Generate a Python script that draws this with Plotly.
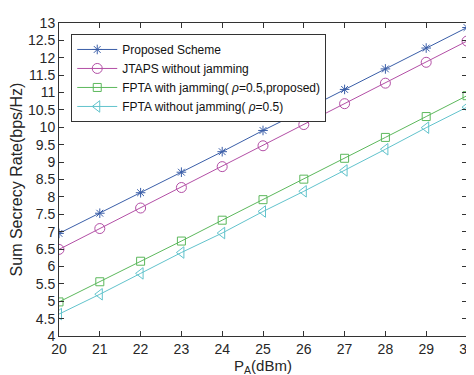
import plotly.graph_objects as go

pa = [20, 21, 22, 23, 24, 25, 26, 27, 28, 29, 30]
proposed = [6.95, 7.53, 8.12, 8.71, 9.30, 9.91, 10.49, 11.09, 11.68, 12.28, 12.87]
jtaps = [6.49, 7.09, 7.68, 8.27, 8.87, 9.47, 10.08, 10.68, 11.27, 11.87, 12.48]
fpta_jam = [4.98, 5.56, 6.15, 6.73, 7.33, 7.92, 8.51, 9.11, 9.71, 10.31, 10.91]
fpta_nojam = [4.63, 5.20, 5.80, 6.40, 6.96, 7.58, 8.16, 8.76, 9.37, 9.99, 10.58]

names = ["Proposed Scheme", "JTAPS without jamming",
         "FPTA with jamming( <i>ρ</i>=0.5,proposed)",
         "FPTA without jamming( <i>ρ</i>=0.5)"]
colors = ["#3a5ea8", "#b34fa6", "#5cb85c", "#62c3cc"]
symbols = ["asterisk-open", "circle-open", "square-open", "triangle-left-open"]
sizes = [8, 10, 8, 10]
series = [proposed, jtaps, fpta_jam, fpta_nojam]

FONT = "Liberation Sans, Arial"

fig = go.Figure()
for n, c, s, sz, y in zip(names, colors, symbols, sizes, series):
    fig.add_trace(go.Scatter(x=pa, y=y, mode="lines+markers", name=n,
                             line=dict(color=c, width=1),
                             marker=dict(symbol=s, size=sz, color=c,
                                         line=dict(color=c, width=1))))

axis_common = dict(showline=True, linecolor="#333333", linewidth=1, mirror="allticks",
                   ticks="inside", ticklen=5, tickcolor="#333333", showgrid=False,
                   zeroline=False, ticklabeloverflow="allow",
                   tickfont=dict(family=FONT, size=14, color="#262626"))
fig.update_xaxes(range=[20, 30], dtick=1, tick0=20,
                 title=dict(text="P<sub>A</sub>(dBm)", font=dict(family=FONT, size=15, color="#262626"), standoff=0),
                 **axis_common)
fig.update_yaxes(range=[4, 13], dtick=0.5, tick0=4,
                 title=dict(text="Sum Secrecy Rate(bps/Hz)", font=dict(family=FONT, size=16, color="#262626"), standoff=2),
                 **axis_common)
fig.update_layout(width=474, height=375, margin=dict(l=48, r=11, t=7, b=47),
                  plot_bgcolor="white", paper_bgcolor="white",
                  legend=dict(x=0.03, y=0.965, xanchor="left", yanchor="top",
                              bgcolor="white", bordercolor="#333333", borderwidth=1,
                              font=dict(family=FONT, size=12, color="#111111"),
                              tracegroupgap=0, itemwidth=40))
fig.write_html("out.html")
